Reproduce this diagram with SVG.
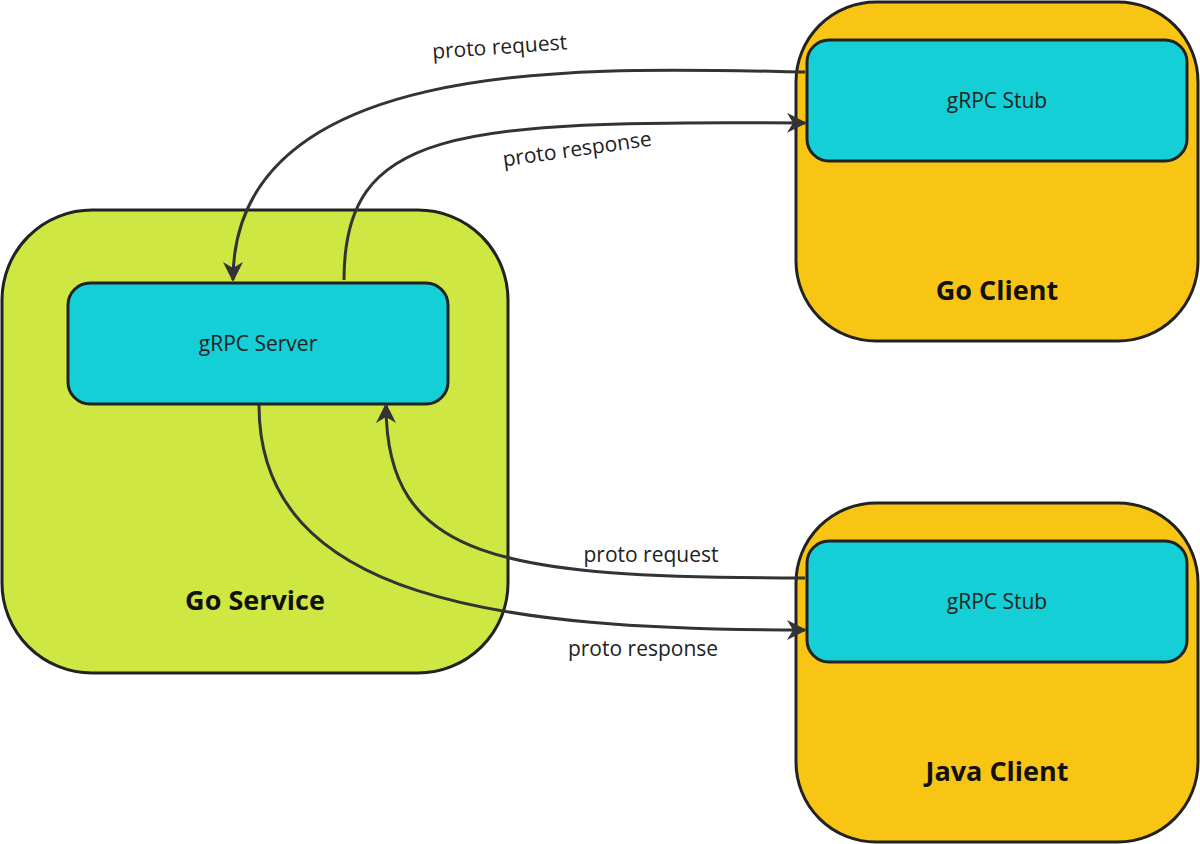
<svg xmlns="http://www.w3.org/2000/svg" width="1200" height="844" viewBox="0 0 1200 844">
<defs>
<style>
.box{stroke:#222;stroke-width:3}
.svc{fill:#cfe742}
.cli{fill:#f8c515}
.inner{fill:#14cfd6}
.t{font-family:"Open Sans",sans-serif;font-size:21px;fill:#222;text-anchor:middle}
.b{font-family:"Open Sans",sans-serif;font-size:27px;font-weight:bold;fill:#111;text-anchor:middle}
.c{fill:none;stroke:#333;stroke-width:3}
</style>
<marker id="a" viewBox="0 0 10 10" refX="9" refY="5" markerWidth="20" markerHeight="20" markerUnits="userSpaceOnUse" orient="auto">
<path d="M0,0 L10,5 L0,10 L3,5 Z" fill="#333"/>
</marker>
</defs>
<rect width="1200" height="844" fill="#fff"/>
<g id="go-service"><rect class="box svc" x="2" y="210" width="506" height="463" rx="90"/><text class="b" x="255" y="610">Go Service</text></g>
<g id="grpc-server"><rect class="box inner" x="68" y="283" width="380" height="121" rx="22"/><text class="t" x="258" y="351">gRPC Server</text></g>
<g id="go-client"><rect class="box cli" x="796" y="2" width="402" height="339" rx="80"/><text class="b" x="997" y="300">Go Client</text></g>
<g id="stub-top"><rect class="box inner" x="807" y="40" width="380" height="121" rx="22"/><text class="t" x="997" y="108">gRPC Stub</text></g>
<g id="java-client"><rect class="box cli" x="796" y="503" width="402" height="339" rx="80"/><text class="b" x="997" y="781">Java Client</text></g>
<g id="stub-bottom"><rect class="box inner" x="807" y="541" width="380" height="121" rx="22"/><text class="t" x="997" y="609">gRPC Stub</text></g>
<g id="connectors">
<path class="c" d="M805,72 C600,68 233,50 233,280" marker-end="url(#a)"/>
<path class="c" d="M344,280 C344,130 450,120 805,123" marker-end="url(#a)"/>
<path class="c" d="M805,578 C500,578 386,560 386,405" marker-end="url(#a)"/>
<path class="c" d="M259,405 C259,600 500,630 805,630" marker-end="url(#a)"/>
<text class="t" x="500" y="54" transform="rotate(-4 500 54)">proto request</text>
<text class="t" x="578" y="156" transform="rotate(-8 578 156)">proto response</text>
<text class="t" x="651" y="562">proto request</text>
<text class="t" x="643" y="656">proto response</text>
</g>
</svg>
